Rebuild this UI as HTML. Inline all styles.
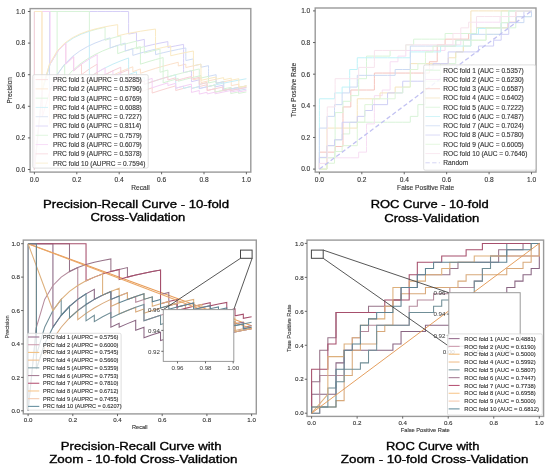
<!DOCTYPE html>
<html><head><meta charset="utf-8"><style>
html,body{margin:0;padding:0;background:#fff;}
svg{display:block;font-family:"Liberation Sans", sans-serif;}
</style></head><body>
<svg width="550" height="470" viewBox="0 0 550 470">
<defs><filter id="soft" x="0" y="0" width="1" height="1"><feGaussianBlur stdDeviation="0.4"/></filter></defs>
<rect width="550" height="470" fill="#fff"/>
<g filter="url(#soft)">
<rect width="550" height="470" fill="#fff"/>
<polyline points="34.40,11.50 34.40,169.50 42.25,90.50 50.10,64.17 57.96,51.00 65.81,43.10 65.81,64.17 73.66,56.64 73.66,70.75 81.51,64.17 81.51,74.70 89.36,68.95 97.21,64.17 97.21,72.27 97.21,79.21 97.21,85.23 97.21,90.50 97.21,95.15 97.21,99.28 97.21,102.97 97.21,106.30 105.07,101.79 105.07,104.86 112.92,100.80 120.77,97.08 120.77,99.98 128.62,96.58 136.47,93.43 144.33,90.50 152.18,87.78 152.18,90.50 152.18,93.05 160.03,90.50 167.88,88.11 175.73,85.85 175.73,88.24 175.73,90.50 183.59,88.36 191.44,86.34 191.44,88.47 199.29,86.55 207.14,84.72 207.14,86.74 207.14,88.66 207.14,90.50 214.99,88.74 214.99,90.50 214.99,92.18 222.84,90.50 230.70,88.89 238.55,87.34 246.40,85.85" fill="none" stroke="#f9d3d3" stroke-width="1.0" stroke-opacity="1.0" stroke-linejoin="miter"/>
<polyline points="34.40,11.50 41.97,11.50 41.97,90.50 49.54,64.17 49.54,90.50 49.54,106.30 49.54,116.83 49.54,124.36 57.11,110.25 57.11,116.83 64.69,106.30 72.26,97.68 79.83,90.50 87.40,84.42 94.97,79.21 94.97,85.23 102.54,80.62 110.11,76.56 117.69,72.94 125.26,69.71 132.83,66.80 132.83,71.69 140.40,68.95 140.40,73.33 147.97,70.75 155.54,68.38 163.11,66.19 170.69,64.17 178.26,62.29 178.26,65.98 185.83,64.17 185.83,67.56 193.40,65.81 193.40,68.95 193.40,71.91 193.40,74.70 193.40,77.33 193.40,79.82 200.97,78.03 200.97,80.37 200.97,82.60 208.54,80.87 216.11,79.21 216.11,81.31 216.11,83.32 223.69,81.72 231.26,80.20 231.26,82.10 231.26,83.92 231.26,85.66 238.83,84.18 238.83,85.85 238.83,87.46 246.40,86.03" fill="none" stroke="#fce1ca" stroke-width="1.0" stroke-opacity="1.0" stroke-linejoin="miter"/>
<polyline points="34.40,11.50 41.97,11.50 49.54,11.50 57.11,11.50 57.11,51.00 57.11,74.70 64.69,64.17 64.69,79.21 72.26,70.75 79.83,64.17 87.40,58.90 94.97,54.59 102.54,51.00 110.11,47.96 117.69,45.36 117.69,53.63 125.26,51.00 132.83,48.68 140.40,46.61 140.40,53.08 140.40,58.90 140.40,64.17 147.97,61.77 155.54,59.59 163.11,57.58 163.11,62.06 163.11,66.19 163.11,70.02 163.11,73.57 163.11,76.88 163.11,79.97 163.11,82.85 170.69,80.62 178.26,78.53 178.26,81.21 185.83,79.21 193.40,77.33 200.97,75.55 200.97,78.03 208.54,76.32 208.54,78.65 208.54,80.87 208.54,82.98 216.11,81.31 216.11,83.32 223.69,81.72 223.69,83.63 223.69,85.46 223.69,87.21 223.69,88.89 231.26,87.34 231.26,88.95 238.83,87.46 246.40,86.03" fill="none" stroke="#d5f3d5" stroke-width="1.0" stroke-opacity="1.0" stroke-linejoin="miter"/>
<polyline points="34.40,11.50 34.40,169.50 42.25,90.50 50.10,64.17 57.96,51.00 65.81,43.10 73.66,37.83 81.51,34.07 89.36,31.25 89.36,46.61 89.36,58.90 89.36,68.95 89.36,77.33 97.21,72.27 105.07,67.93 112.92,64.17 120.77,60.88 128.62,57.97 128.62,64.17 128.62,69.71 128.62,74.70 136.47,71.69 136.47,76.14 136.47,80.20 144.33,77.33 144.33,81.02 144.33,84.42 152.18,81.72 160.03,79.21 167.88,76.88 175.73,74.70 175.73,77.76 175.73,80.62 175.73,83.32 175.73,85.85 175.73,88.24 183.59,86.11 183.59,88.36 191.44,86.34 191.44,88.47 199.29,86.55 199.29,88.57 207.14,86.74 214.99,84.99 222.84,83.32 230.70,81.72 238.55,80.20 246.40,78.73" fill="none" stroke="#c5eef7" stroke-width="1.0" stroke-opacity="1.0" stroke-linejoin="miter"/>
<polyline points="34.40,11.50 41.97,11.50 49.54,11.50 49.54,64.17 49.54,90.50 57.11,74.70 64.69,64.17 72.26,56.64 79.83,51.00 87.40,46.61 94.97,43.10 102.54,40.23 110.11,37.83 110.11,47.96 117.69,45.36 125.26,43.10 125.26,51.00 132.83,48.68 132.83,55.39 140.40,53.08 147.97,51.00 155.54,49.12 155.54,54.59 163.11,52.72 170.69,51.00 178.26,49.42 185.83,47.96 185.83,52.46 185.83,56.64 185.83,60.53 193.40,58.90 193.40,62.47 193.40,65.81 200.97,64.17 200.97,67.26 208.54,65.67 208.54,68.56 208.54,71.28 208.54,73.87 208.54,76.32 216.11,74.70 216.11,77.01 216.11,79.21 216.11,81.31 216.11,83.32 223.69,81.72 223.69,83.63 223.69,85.46 223.69,87.21 223.69,88.89 223.69,90.50 231.26,88.95 238.83,87.46 238.83,89.01 238.83,90.50 246.40,89.06" fill="none" stroke="#cfdcf5" stroke-width="1.0" stroke-opacity="1.0" stroke-linejoin="miter"/>
<polyline points="34.40,11.50 42.25,11.50 50.10,11.50 57.96,11.50 65.81,11.50 73.66,11.50 81.51,11.50 89.36,11.50 97.21,11.50 105.07,11.50 112.92,11.50 120.77,11.50 128.62,11.50 128.62,23.65 128.62,34.07 136.47,32.57 136.47,41.12 144.33,39.38 144.33,46.61 152.18,44.76 160.03,43.10 167.88,41.60 167.88,47.41 175.73,45.85 183.59,44.42 183.59,49.42 183.59,54.04 183.59,58.31 183.59,62.29 183.59,65.98 183.59,69.43 183.59,72.66 191.44,70.75 191.44,73.74 191.44,76.56 191.44,79.21 191.44,81.72 199.29,79.82 199.29,82.18 199.29,84.42 199.29,86.55 199.29,88.57 207.14,86.74 214.99,84.99 214.99,86.91 222.84,85.23 222.84,87.07 222.84,88.82 222.84,90.50 230.70,88.89 230.70,90.50 238.55,88.95 246.40,87.46" fill="none" stroke="#d6cff7" stroke-width="1.0" stroke-opacity="1.0" stroke-linejoin="miter"/>
<polyline points="34.40,11.50 42.25,11.50 50.10,11.50 57.96,11.50 65.81,11.50 73.66,11.50 81.51,11.50 89.36,11.50 89.36,31.25 97.21,29.06 105.07,27.30 105.07,40.23 112.92,37.83 120.77,35.81 120.77,45.36 128.62,43.10 136.47,41.12 136.47,48.68 144.33,46.61 144.33,53.08 152.18,51.00 160.03,49.12 160.03,54.59 160.03,59.59 160.03,64.17 160.03,68.38 160.03,72.27 167.88,70.02 167.88,73.57 167.88,76.88 175.73,74.70 183.59,72.66 191.44,70.75 199.29,68.95 199.29,71.91 199.29,74.70 199.29,77.33 199.29,79.82 199.29,82.18 199.29,84.42 207.14,82.60 207.14,84.72 207.14,86.74 214.99,84.99 214.99,86.91 214.99,88.74 214.99,90.50 214.99,92.18 222.84,90.50 230.70,88.89 230.70,90.50 230.70,92.05 230.70,93.54 238.55,91.99 238.55,93.43 246.40,91.94" fill="none" stroke="#d8f3d8" stroke-width="1.0" stroke-opacity="1.0" stroke-linejoin="miter"/>
<polyline points="34.40,11.50 42.25,11.50 50.10,11.50 50.10,64.17 57.96,51.00 65.81,43.10 65.81,64.17 73.66,56.64 73.66,70.75 81.51,64.17 89.36,58.90 97.21,54.59 97.21,64.17 97.21,72.27 105.07,67.93 105.07,74.70 112.92,70.75 112.92,76.56 120.77,72.94 120.77,78.03 120.77,82.60 128.62,79.21 136.47,76.14 136.47,80.20 136.47,83.92 144.33,81.02 152.18,78.35 152.18,81.72 152.18,84.86 152.18,87.78 160.03,85.23 167.88,82.85 167.88,85.56 175.73,83.32 175.73,85.85 175.73,88.24 183.59,86.11 191.44,84.09 191.44,86.34 191.44,88.47 191.44,90.50 191.44,92.43 199.29,90.50 199.29,92.34 199.29,94.09 207.14,92.26 207.14,93.93 214.99,92.18 214.99,93.79 222.84,92.11 230.70,90.50 230.70,92.05 238.55,90.50 238.55,91.99 246.40,90.50" fill="none" stroke="#f5d1f5" stroke-width="1.0" stroke-opacity="1.0" stroke-linejoin="miter"/>
<polyline points="34.40,11.50 34.40,169.50 42.25,90.50 42.25,116.83 50.10,90.50 57.96,74.70 57.96,90.50 65.81,79.21 65.81,90.50 65.81,99.28 73.66,90.50 81.51,83.32 89.36,77.33 97.21,72.27 97.21,79.21 105.07,74.70 112.92,70.75 120.77,67.26 120.77,72.94 128.62,69.71 128.62,74.70 128.62,79.21 128.62,83.32 136.47,80.20 136.47,83.92 144.33,81.02 144.33,84.42 152.18,81.72 160.03,79.21 167.88,76.88 167.88,79.97 175.73,77.76 175.73,80.62 183.59,78.53 191.44,76.56 191.44,79.21 199.29,77.33 199.29,79.82 199.29,82.18 199.29,84.42 207.14,82.60 207.14,84.72 207.14,86.74 207.14,88.66 207.14,90.50 214.99,88.74 222.84,87.07 222.84,88.82 222.84,90.50 230.70,88.89 230.70,90.50 238.55,88.95 246.40,87.46" fill="none" stroke="#f7d1d8" stroke-width="1.0" stroke-opacity="1.0" stroke-linejoin="miter"/>
<polyline points="34.40,11.50 41.97,11.50 41.97,90.50 49.54,64.17 57.11,51.00 64.69,43.10 72.26,37.83 79.83,34.07 87.40,31.25 94.97,29.06 102.54,27.30 110.11,25.86 117.69,24.67 117.69,35.81 125.26,34.07 132.83,32.57 140.40,31.25 147.97,30.09 155.54,29.06 155.54,36.45 155.54,43.10 155.54,49.12 163.11,47.41 170.69,45.85 170.69,51.00 170.69,55.74 178.26,54.04 185.83,52.46 193.40,51.00 193.40,55.09 193.40,58.90 193.40,62.47 193.40,65.81 200.97,64.17 200.97,67.26 200.97,70.19 200.97,72.94 200.97,75.55 200.97,78.03 200.97,80.37 208.54,78.65 216.11,77.01 216.11,79.21 223.69,77.64 223.69,79.73 231.26,78.21 231.26,80.20 238.83,78.73 238.83,80.62 238.83,82.44 238.83,84.18 238.83,85.85 238.83,87.46 246.40,86.03" fill="none" stroke="#faeac4" stroke-width="1.0" stroke-opacity="1.0" stroke-linejoin="miter"/>
<polyline points="319.40,169.10 326.97,169.10 326.97,163.24 326.97,157.38 326.97,151.52 326.97,145.66 334.55,145.66 334.55,139.80 342.12,139.80 342.12,133.94 349.70,133.94 349.70,128.09 349.70,122.23 357.27,122.23 364.85,122.23 372.42,122.23 380.00,122.23 387.57,122.23 395.15,122.23 402.72,122.23 410.30,122.23 410.30,116.37 417.88,116.37 417.88,110.51 417.88,104.65 425.45,104.65 425.45,98.79 425.45,92.93 425.45,87.07 425.45,81.21 433.02,81.21 440.60,81.21 440.60,75.35 440.60,69.49 440.60,63.63 448.17,63.63 455.75,63.63 455.75,57.77 455.75,51.91 463.32,51.91 463.32,46.06 463.32,40.20 470.90,40.20 478.48,40.20 486.05,40.20 486.05,34.34 493.62,34.34 501.20,34.34 501.20,28.48 501.20,22.62 501.20,16.76 501.20,10.90 508.77,10.90 516.35,10.90 523.92,10.90 531.50,10.90" fill="none" stroke="#d8f3d8" stroke-width="1.0" stroke-opacity="1.0" stroke-linejoin="miter"/>
<polyline points="319.40,169.10 319.40,163.45 327.26,163.45 327.26,157.80 335.11,157.80 342.97,157.80 350.82,157.80 358.68,157.80 358.68,152.15 366.53,152.15 366.53,146.50 366.53,140.85 366.53,135.20 366.53,129.55 366.53,123.90 374.39,123.90 374.39,118.25 374.39,112.60 374.39,106.95 374.39,101.30 374.39,95.65 382.24,95.65 382.24,90.00 390.10,90.00 390.10,84.35 390.10,78.70 390.10,73.05 390.10,67.40 390.10,61.75 397.96,61.75 397.96,56.10 405.81,56.10 405.81,50.45 413.67,50.45 421.52,50.45 429.38,50.45 437.23,50.45 445.09,50.45 445.09,44.80 452.94,44.80 460.80,44.80 460.80,39.15 460.80,33.50 468.66,33.50 476.51,33.50 476.51,27.85 476.51,22.20 484.37,22.20 492.22,22.20 500.08,22.20 500.08,16.55 507.93,16.55 515.79,16.55 515.79,10.90 523.64,10.90 531.50,10.90" fill="none" stroke="#f7def3" stroke-width="1.0" stroke-opacity="1.0" stroke-linejoin="miter"/>
<polyline points="319.40,169.10 319.40,163.45 319.40,157.80 319.40,152.15 327.26,152.15 335.11,152.15 335.11,146.50 342.97,146.50 342.97,140.85 342.97,135.20 342.97,129.55 342.97,123.90 342.97,118.25 342.97,112.60 342.97,106.95 350.82,106.95 350.82,101.30 350.82,95.65 350.82,90.00 358.68,90.00 366.53,90.00 374.39,90.00 374.39,84.35 374.39,78.70 374.39,73.05 382.24,73.05 390.10,73.05 397.96,73.05 405.81,73.05 413.67,73.05 421.52,73.05 429.38,73.05 429.38,67.40 429.38,61.75 437.23,61.75 437.23,56.10 437.23,50.45 437.23,44.80 445.09,44.80 445.09,39.15 452.94,39.15 460.80,39.15 468.66,39.15 468.66,33.50 476.51,33.50 476.51,27.85 484.37,27.85 492.22,27.85 500.08,27.85 507.93,27.85 507.93,22.20 515.79,22.20 515.79,16.55 515.79,10.90 523.64,10.90 531.50,10.90" fill="none" stroke="#f5c4be" stroke-width="1.0" stroke-opacity="1.0" stroke-linejoin="miter"/>
<polyline points="319.40,169.10 326.97,169.10 326.97,163.24 326.97,157.38 326.97,151.52 326.97,145.66 326.97,139.80 326.97,133.94 326.97,128.09 334.55,128.09 342.12,128.09 349.70,128.09 357.27,128.09 357.27,122.23 357.27,116.37 357.27,110.51 357.27,104.65 357.27,98.79 364.85,98.79 372.42,98.79 380.00,98.79 380.00,92.93 387.57,92.93 395.15,92.93 395.15,87.07 402.72,87.07 410.30,87.07 410.30,81.21 410.30,75.35 410.30,69.49 410.30,63.63 417.88,63.63 425.45,63.63 433.02,63.63 440.60,63.63 448.17,63.63 448.17,57.77 455.75,57.77 455.75,51.91 463.32,51.91 463.32,46.06 470.90,46.06 470.90,40.20 470.90,34.34 470.90,28.48 470.90,22.62 470.90,16.76 470.90,10.90 478.48,10.90 486.05,10.90 493.62,10.90 501.20,10.90 508.77,10.90 516.35,10.90 523.92,10.90 531.50,10.90" fill="none" stroke="#f5e4bd" stroke-width="1.0" stroke-opacity="1.0" stroke-linejoin="miter"/>
<polyline points="319.40,169.10 319.40,163.45 319.40,157.80 327.26,157.80 335.11,157.80 335.11,152.15 335.11,146.50 335.11,140.85 335.11,135.20 335.11,129.55 335.11,123.90 335.11,118.25 335.11,112.60 342.97,112.60 342.97,106.95 342.97,101.30 350.82,101.30 350.82,95.65 358.68,95.65 358.68,90.00 358.68,84.35 358.68,78.70 366.53,78.70 366.53,73.05 366.53,67.40 366.53,61.75 366.53,56.10 374.39,56.10 382.24,56.10 390.10,56.10 390.10,50.45 397.96,50.45 405.81,50.45 405.81,44.80 413.67,44.80 413.67,39.15 421.52,39.15 429.38,39.15 437.23,39.15 445.09,39.15 445.09,33.50 452.94,33.50 460.80,33.50 468.66,33.50 476.51,33.50 476.51,27.85 484.37,27.85 492.22,27.85 500.08,27.85 507.93,27.85 515.79,27.85 515.79,22.20 515.79,16.55 523.64,16.55 531.50,16.55 531.50,10.90" fill="none" stroke="#d8f5d8" stroke-width="1.0" stroke-opacity="1.0" stroke-linejoin="miter"/>
<polyline points="319.40,169.10 319.40,163.24 319.40,157.38 319.40,151.52 319.40,145.66 319.40,139.80 319.40,133.94 319.40,128.09 319.40,122.23 319.40,116.37 319.40,110.51 319.40,104.65 319.40,98.79 326.97,98.79 334.55,98.79 334.55,92.93 342.12,92.93 342.12,87.07 349.70,87.07 349.70,81.21 349.70,75.35 349.70,69.49 357.27,69.49 357.27,63.63 357.27,57.77 364.85,57.77 372.42,57.77 380.00,57.77 387.57,57.77 395.15,57.77 402.72,57.77 410.30,57.77 410.30,51.91 417.88,51.91 425.45,51.91 433.02,51.91 440.60,51.91 440.60,46.06 448.17,46.06 455.75,46.06 463.32,46.06 470.90,46.06 470.90,40.20 470.90,34.34 478.48,34.34 478.48,28.48 486.05,28.48 493.62,28.48 501.20,28.48 501.20,22.62 508.77,22.62 508.77,16.76 508.77,10.90 516.35,10.90 523.92,10.90 531.50,10.90" fill="none" stroke="#c0f3f8" stroke-width="1.0" stroke-opacity="1.0" stroke-linejoin="miter"/>
<polyline points="319.40,169.10 319.40,163.24 319.40,157.38 319.40,151.52 319.40,145.66 319.40,139.80 319.40,133.94 319.40,128.09 326.97,128.09 326.97,122.23 326.97,116.37 334.55,116.37 334.55,110.51 334.55,104.65 342.12,104.65 342.12,98.79 342.12,92.93 349.70,92.93 349.70,87.07 357.27,87.07 357.27,81.21 357.27,75.35 364.85,75.35 372.42,75.35 380.00,75.35 387.57,75.35 395.15,75.35 395.15,69.49 402.72,69.49 410.30,69.49 410.30,63.63 410.30,57.77 410.30,51.91 410.30,46.06 417.88,46.06 425.45,46.06 433.02,46.06 440.60,46.06 448.17,46.06 455.75,46.06 455.75,40.20 463.32,40.20 470.90,40.20 470.90,34.34 478.48,34.34 486.05,34.34 493.62,34.34 501.20,34.34 501.20,28.48 501.20,22.62 508.77,22.62 516.35,22.62 523.92,22.62 523.92,16.76 531.50,16.76 531.50,10.90" fill="none" stroke="#cbdaf3" stroke-width="1.0" stroke-opacity="1.0" stroke-linejoin="miter"/>
<polyline points="319.40,169.10 319.40,163.24 319.40,157.38 326.97,157.38 326.97,151.52 326.97,145.66 334.55,145.66 334.55,139.80 342.12,139.80 342.12,133.94 342.12,128.09 342.12,122.23 349.70,122.23 357.27,122.23 357.27,116.37 364.85,116.37 364.85,110.51 372.42,110.51 372.42,104.65 380.00,104.65 387.57,104.65 387.57,98.79 387.57,92.93 395.15,92.93 402.72,92.93 402.72,87.07 402.72,81.21 410.30,81.21 417.88,81.21 425.45,81.21 425.45,75.35 425.45,69.49 433.02,69.49 433.02,63.63 440.60,63.63 448.17,63.63 448.17,57.77 448.17,51.91 455.75,51.91 463.32,51.91 470.90,51.91 478.48,51.91 478.48,46.06 486.05,46.06 493.62,46.06 493.62,40.20 501.20,40.20 501.20,34.34 508.77,34.34 508.77,28.48 508.77,22.62 516.35,22.62 516.35,16.76 523.92,16.76 523.92,10.90 531.50,10.90" fill="none" stroke="#cfcff5" stroke-width="1.0" stroke-opacity="1.0" stroke-linejoin="miter"/>
<polyline points="319.40,169.10 326.97,169.10 326.97,163.24 334.55,163.24 334.55,157.38 334.55,151.52 342.12,151.52 342.12,145.66 349.70,145.66 357.27,145.66 357.27,139.80 357.27,133.94 357.27,128.09 357.27,122.23 364.85,122.23 364.85,116.37 364.85,110.51 364.85,104.65 372.42,104.65 372.42,98.79 380.00,98.79 387.57,98.79 395.15,98.79 395.15,92.93 402.72,92.93 402.72,87.07 410.30,87.07 410.30,81.21 410.30,75.35 410.30,69.49 417.88,69.49 417.88,63.63 425.45,63.63 425.45,57.77 425.45,51.91 433.02,51.91 433.02,46.06 440.60,46.06 448.17,46.06 455.75,46.06 455.75,40.20 463.32,40.20 470.90,40.20 478.48,40.20 486.05,40.20 486.05,34.34 486.05,28.48 493.62,28.48 501.20,28.48 501.20,22.62 508.77,22.62 508.77,16.76 508.77,10.90 516.35,10.90 523.92,10.90 531.50,10.90" fill="none" stroke="#def5d8" stroke-width="1.0" stroke-opacity="1.0" stroke-linejoin="miter"/>
<polyline points="319.40,169.10 319.40,163.45 327.26,163.45 327.26,157.80 327.26,152.15 327.26,146.50 327.26,140.85 327.26,135.20 327.26,129.55 327.26,123.90 327.26,118.25 327.26,112.60 327.26,106.95 335.11,106.95 335.11,101.30 335.11,95.65 335.11,90.00 335.11,84.35 335.11,78.70 342.97,78.70 350.82,78.70 358.68,78.70 358.68,73.05 358.68,67.40 366.53,67.40 374.39,67.40 374.39,61.75 374.39,56.10 374.39,50.45 382.24,50.45 390.10,50.45 397.96,50.45 405.81,50.45 405.81,44.80 413.67,44.80 421.52,44.80 429.38,44.80 437.23,44.80 445.09,44.80 452.94,44.80 452.94,39.15 452.94,33.50 460.80,33.50 460.80,27.85 468.66,27.85 468.66,22.20 476.51,22.20 476.51,16.55 484.37,16.55 492.22,16.55 500.08,16.55 507.93,16.55 515.79,16.55 515.79,10.90 523.64,10.90 531.50,10.90" fill="none" stroke="#f7e4ed" stroke-width="1.0" stroke-opacity="1.0" stroke-linejoin="miter"/>
<polyline points="319.40,169.10 531.50,10.90" fill="none" stroke="#c2c2f2" stroke-width="1.3" stroke-opacity="1.0" stroke-linejoin="miter" stroke-dasharray="4.4,2.6"/>
<polyline points="28.10,243.70 36.38,243.70 44.66,243.70 52.93,243.70 52.93,285.48 52.93,310.54 52.93,327.25 61.21,315.31 69.49,306.36 77.77,299.40 86.04,293.83 94.32,289.27 94.32,299.40 102.60,295.12 110.88,291.44 110.88,299.40 110.88,306.36 110.88,312.51 110.88,317.97 110.88,322.85 110.88,327.25 119.16,323.27 119.16,327.25 127.43,323.62 135.71,320.29 135.71,323.91 135.71,327.25 135.71,330.34 143.99,327.25 143.99,330.13 143.99,332.82 143.99,335.34 143.99,337.69 152.27,334.85 160.54,332.16 160.54,334.41 160.54,336.53 160.54,338.54 160.54,340.44 168.82,337.96 177.10,335.61 177.10,337.44 177.10,339.19 185.38,336.97 193.66,334.85 193.66,336.53 201.93,334.52 201.93,336.14 210.21,334.21 210.21,335.78 218.49,333.93 218.49,335.44 226.77,333.68 235.04,331.98 243.32,330.34 251.60,328.77" fill="none" stroke="#896582" stroke-width="1.05" stroke-opacity="1.0" stroke-linejoin="miter"/>
<polyline points="28.10,243.70 28.10,410.80 36.38,327.25 44.66,299.40 52.93,285.48 61.21,277.12 69.49,271.55 77.77,267.57 77.77,285.48 77.77,299.40 77.77,310.54 86.04,304.46 94.32,299.40 102.60,295.12 110.88,291.44 110.88,299.40 119.16,295.92 127.43,292.85 127.43,299.40 135.71,296.47 135.71,302.19 143.99,299.40 143.99,304.46 143.99,309.09 143.99,313.32 143.99,317.22 143.99,320.82 152.27,317.97 160.54,315.31 168.82,312.84 168.82,316.11 177.10,313.77 177.10,316.81 177.10,319.65 185.38,317.42 185.38,320.09 185.38,322.61 193.66,320.48 193.66,322.85 193.66,325.11 193.66,327.25 201.93,325.21 201.93,327.25 210.21,325.31 218.49,323.45 218.49,325.39 226.77,323.62 235.04,321.92 235.04,323.77 235.04,325.54 235.04,327.25 235.04,328.89 235.04,330.46 235.04,331.98 243.32,330.34 251.60,328.77" fill="none" stroke="#b58b9d" stroke-width="1.05" stroke-opacity="1.0" stroke-linejoin="miter"/>
<polyline points="28.10,243.70 251.60,325.73" fill="none" stroke="#e89c58" stroke-width="1.05" stroke-opacity="1.0" stroke-linejoin="miter"/>
<polyline points="28.10,243.70 36.38,243.70 36.38,327.25 36.38,355.10 36.38,369.02 44.66,343.96 44.66,355.10 52.93,339.19 61.21,327.25 69.49,317.97 77.77,310.54 77.77,319.65 86.04,313.32 94.32,307.97 102.60,303.38 110.88,299.40 110.88,306.36 119.16,302.68 119.16,308.68 119.16,314.06 127.43,310.54 135.71,307.36 135.71,312.06 143.99,309.09 143.99,313.32 152.27,310.54 160.54,307.97 168.82,305.59 177.10,303.38 177.10,307.08 185.38,304.97 185.38,308.38 185.38,311.58 185.38,314.59 193.66,312.51 193.66,315.31 193.66,317.97 193.66,320.48 193.66,322.85 201.93,320.82 201.93,323.07 210.21,321.14 210.21,323.27 210.21,325.31 210.21,327.25 210.21,329.11 210.21,330.88 218.49,329.03 218.49,330.73 218.49,332.37 226.77,330.59 226.77,332.16 235.04,330.46 243.32,328.83 251.60,327.25" fill="none" stroke="#d8a97a" stroke-width="1.05" stroke-opacity="1.0" stroke-linejoin="miter"/>
<polyline points="28.10,243.70 28.10,410.80 36.38,327.25 36.38,355.10 44.66,327.25 52.93,310.54 61.21,299.40 61.21,315.31 69.49,306.36 69.49,317.97 77.77,310.54 86.04,304.46 86.04,313.32 86.04,320.82 94.32,315.31 94.32,321.68 102.60,316.81 110.88,312.51 110.88,317.97 119.16,314.06 127.43,310.54 135.71,307.36 143.99,304.46 143.99,309.09 143.99,313.32 143.99,317.22 143.99,320.82 152.27,317.97 160.54,315.31 160.54,318.61 160.54,321.68 160.54,324.55 168.82,322.03 168.82,324.72 177.10,322.34 177.10,324.86 177.10,327.25 185.38,324.99 185.38,327.25 185.38,329.39 193.66,327.25 201.93,325.21 201.93,327.25 210.21,325.31 218.49,323.45 218.49,325.39 226.77,323.62 235.04,321.92 235.04,323.77 235.04,325.54 243.32,323.91 251.60,322.34" fill="none" stroke="#708e97" stroke-width="1.05" stroke-opacity="1.0" stroke-linejoin="miter"/>
<polyline points="28.10,243.70 36.38,243.70 44.66,243.70 52.93,243.70 61.21,243.70 69.49,243.70 69.49,271.55 77.77,267.57 86.04,264.59 94.32,262.27 102.60,260.41 110.88,258.89 110.88,271.55 119.16,269.41 127.43,267.57 127.43,277.12 135.71,275.03 143.99,273.19 152.27,271.55 160.54,270.08 160.54,277.12 160.54,283.49 160.54,289.27 160.54,294.56 168.82,292.44 168.82,297.17 168.82,301.54 168.82,305.59 177.10,303.38 177.10,307.08 185.38,304.97 193.66,302.99 193.66,306.36 193.66,309.53 201.93,307.59 210.21,305.77 210.21,308.68 210.21,311.44 210.21,314.06 210.21,316.54 218.49,314.72 218.49,317.06 226.77,315.31 226.77,317.53 226.77,319.65 226.77,321.68 226.77,323.62 226.77,325.47 235.04,323.77 243.32,322.13 243.32,323.91 243.32,325.61 243.32,327.25 251.60,325.67" fill="none" stroke="#977389" stroke-width="1.05" stroke-opacity="1.0" stroke-linejoin="miter"/>
<polyline points="28.10,243.70 36.38,243.70 44.66,243.70 52.93,243.70 61.21,243.70 69.49,243.70 77.77,243.70 86.04,243.70 86.04,264.59 86.04,280.83 94.32,277.12 102.60,274.08 110.88,271.55 119.16,269.41 119.16,279.51 127.43,277.12 135.71,275.03 143.99,273.19 152.27,271.55 160.54,270.08 160.54,277.12 160.54,283.49 160.54,289.27 160.54,294.56 160.54,299.40 160.54,303.86 168.82,301.54 177.10,299.40 177.10,303.38 177.10,307.08 177.10,310.54 185.38,308.38 193.66,306.36 201.93,304.46 210.21,302.68 210.21,305.77 218.49,304.04 226.77,302.41 226.77,305.26 226.77,307.97 226.77,310.54 235.04,308.91 235.04,311.34 235.04,313.65 235.04,315.86 243.32,314.25 243.32,316.35 243.32,318.36 251.60,316.81" fill="none" stroke="#a64f6c" stroke-width="1.05" stroke-opacity="1.0" stroke-linejoin="miter"/>
<polyline points="28.10,243.70 52.93,310.54 61.21,299.40 69.49,291.44 77.77,285.48 86.04,280.83 94.32,277.12 102.60,274.08 102.60,285.48 102.60,295.12 110.88,291.44 119.16,288.26 119.16,295.92 127.43,292.85 127.43,299.40 135.71,296.47 143.99,293.83 143.99,299.40 152.27,296.87 152.27,301.82 152.27,306.36 160.54,303.86 168.82,301.54 168.82,305.59 177.10,303.38 185.38,301.32 193.66,299.40 193.66,302.99 193.66,306.36 201.93,304.46 201.93,307.59 201.93,310.54 210.21,308.68 210.21,311.44 210.21,314.06 218.49,312.25 218.49,314.72 226.77,312.99 226.77,315.31 226.77,317.53 226.77,319.65 235.04,317.97 235.04,319.98 235.04,321.92 235.04,323.77 235.04,325.54 235.04,327.25 235.04,328.89 235.04,330.46 235.04,331.98 243.32,330.34 251.60,328.77" fill="none" stroke="#ddb07c" stroke-width="1.05" stroke-opacity="1.0" stroke-linejoin="miter"/>
<polyline points="28.10,243.70 251.60,328.77" fill="none" stroke="#eaa666" stroke-width="1.05" stroke-opacity="1.0" stroke-linejoin="miter"/>
<polyline points="28.10,243.70 36.38,243.70 36.38,327.25 36.38,355.10 36.38,369.02 44.66,343.96 52.93,327.25 61.21,315.31 69.49,306.36 77.77,299.40 86.04,293.83 86.04,304.46 94.32,299.40 102.60,295.12 110.88,291.44 110.88,299.40 119.16,295.92 119.16,302.68 127.43,299.40 135.71,296.47 143.99,293.83 143.99,299.40 152.27,296.87 152.27,301.82 160.54,299.40 160.54,303.86 160.54,307.97 168.82,305.59 168.82,309.35 177.10,307.08 185.38,304.97 193.66,302.99 193.66,306.36 193.66,309.53 201.93,307.59 210.21,305.77 210.21,308.68 218.49,306.93 218.49,309.66 226.77,307.97 226.77,310.54 226.77,312.99 226.77,315.31 226.77,317.53 226.77,319.65 226.77,321.68 226.77,323.62 226.77,325.47 226.77,327.25 235.04,325.54 243.32,323.91 243.32,325.61 243.32,327.25 243.32,328.83 251.60,327.25" fill="none" stroke="#5f8392" stroke-width="1.05" stroke-opacity="1.0" stroke-linejoin="miter"/>
<polyline points="311.60,413.20 311.60,406.91 311.60,400.62 311.60,394.33 319.73,394.33 327.86,394.33 336.00,394.33 336.00,388.04 336.00,381.76 336.00,375.47 336.00,369.18 336.00,362.89 344.13,362.89 344.13,356.60 344.13,350.31 352.26,350.31 360.39,350.31 368.52,350.31 376.66,350.31 384.79,350.31 392.92,350.31 392.92,344.02 401.05,344.02 401.05,337.73 401.05,331.44 409.19,331.44 417.32,331.44 425.45,331.44 425.45,325.16 433.58,325.16 441.71,325.16 449.85,325.16 457.98,325.16 457.98,318.87 457.98,312.58 466.11,312.58 474.24,312.58 482.38,312.58 490.51,312.58 490.51,306.29 490.51,300.00 498.64,300.00 506.77,300.00 506.77,293.71 506.77,287.42 514.90,287.42 514.90,281.13 523.04,281.13 523.04,274.84 531.17,274.84 531.17,268.56 539.30,268.56 539.30,262.27 539.30,255.98 539.30,249.69 539.30,243.40" fill="none" stroke="#896582" stroke-width="1.05" stroke-opacity="1.0" stroke-linejoin="miter"/>
<polyline points="311.60,413.20 319.73,413.20 319.73,406.91 319.73,400.62 319.73,394.33 319.73,388.04 319.73,381.76 319.73,375.47 327.86,375.47 336.00,375.47 344.13,375.47 344.13,369.18 344.13,362.89 344.13,356.60 344.13,350.31 352.26,350.31 352.26,344.02 352.26,337.73 360.39,337.73 360.39,331.44 368.52,331.44 368.52,325.16 376.66,325.16 384.79,325.16 392.92,325.16 401.05,325.16 409.19,325.16 409.19,318.87 409.19,312.58 409.19,306.29 417.32,306.29 417.32,300.00 425.45,300.00 433.58,300.00 433.58,293.71 441.71,293.71 449.85,293.71 449.85,287.42 457.98,287.42 466.11,287.42 474.24,287.42 474.24,281.13 482.38,281.13 482.38,274.84 482.38,268.56 490.51,268.56 490.51,262.27 490.51,255.98 498.64,255.98 506.77,255.98 514.90,255.98 523.04,255.98 531.17,255.98 539.30,255.98 539.30,249.69 539.30,243.40" fill="none" stroke="#b58b9d" stroke-width="1.05" stroke-opacity="1.0" stroke-linejoin="miter"/>
<polyline points="311.60,413.20 311.60,406.91 319.73,406.91 327.86,406.91 336.00,406.91 336.00,400.62 344.13,400.62 344.13,394.33 344.13,388.04 344.13,381.76 344.13,375.47 352.26,375.47 352.26,369.18 352.26,362.89 352.26,356.60 352.26,350.31 360.39,350.31 360.39,344.02 368.52,344.02 376.66,344.02 376.66,337.73 376.66,331.44 384.79,331.44 384.79,325.16 392.92,325.16 392.92,318.87 392.92,312.58 392.92,306.29 392.92,300.00 401.05,300.00 401.05,293.71 409.19,293.71 417.32,293.71 425.45,293.71 425.45,287.42 433.58,287.42 441.71,287.42 449.85,287.42 457.98,287.42 457.98,281.13 466.11,281.13 466.11,274.84 474.24,274.84 482.38,274.84 490.51,274.84 498.64,274.84 506.77,274.84 506.77,268.56 514.90,268.56 523.04,268.56 523.04,262.27 531.17,262.27 531.17,255.98 531.17,249.69 531.17,243.40 539.30,243.40" fill="none" stroke="#d8a97a" stroke-width="1.05" stroke-opacity="1.0" stroke-linejoin="miter"/>
<polyline points="311.60,413.20 319.73,413.20 319.73,406.91 327.86,406.91 327.86,400.62 327.86,394.33 327.86,388.04 336.00,388.04 336.00,381.76 344.13,381.76 344.13,375.47 344.13,369.18 352.26,369.18 360.39,369.18 360.39,362.89 368.52,362.89 368.52,356.60 368.52,350.31 376.66,350.31 376.66,344.02 376.66,337.73 376.66,331.44 376.66,325.16 384.79,325.16 392.92,325.16 401.05,325.16 409.19,325.16 409.19,318.87 409.19,312.58 417.32,312.58 425.45,312.58 433.58,312.58 433.58,306.29 441.71,306.29 441.71,300.00 449.85,300.00 457.98,300.00 457.98,293.71 466.11,293.71 474.24,293.71 474.24,287.42 474.24,281.13 482.38,281.13 482.38,274.84 482.38,268.56 490.51,268.56 490.51,262.27 490.51,255.98 498.64,255.98 506.77,255.98 506.77,249.69 506.77,243.40 514.90,243.40 523.04,243.40 531.17,243.40 539.30,243.40" fill="none" stroke="#708e97" stroke-width="1.05" stroke-opacity="1.0" stroke-linejoin="miter"/>
<polyline points="311.60,413.20 311.60,406.91 311.60,400.62 311.60,394.33 311.60,388.04 311.60,381.76 319.73,381.76 319.73,375.47 319.73,369.18 319.73,362.89 319.73,356.60 319.73,350.31 327.86,350.31 327.86,344.02 327.86,337.73 336.00,337.73 336.00,331.44 336.00,325.16 336.00,318.87 336.00,312.58 344.13,312.58 352.26,312.58 360.39,312.58 368.52,312.58 368.52,306.29 376.66,306.29 384.79,306.29 392.92,306.29 392.92,300.00 401.05,300.00 401.05,293.71 401.05,287.42 409.19,287.42 417.32,287.42 417.32,281.13 417.32,274.84 425.45,274.84 433.58,274.84 441.71,274.84 449.85,274.84 449.85,268.56 457.98,268.56 457.98,262.27 466.11,262.27 474.24,262.27 482.38,262.27 490.51,262.27 498.64,262.27 498.64,255.98 498.64,249.69 506.77,249.69 514.90,249.69 523.04,249.69 523.04,243.40 531.17,243.40 539.30,243.40" fill="none" stroke="#977389" stroke-width="1.05" stroke-opacity="1.0" stroke-linejoin="miter"/>
<polyline points="311.60,413.20 311.60,406.91 311.60,400.62 311.60,394.33 311.60,388.04 311.60,381.76 311.60,375.47 311.60,369.18 319.73,369.18 327.86,369.18 327.86,362.89 327.86,356.60 327.86,350.31 327.86,344.02 336.00,344.02 336.00,337.73 336.00,331.44 336.00,325.16 336.00,318.87 336.00,312.58 344.13,312.58 352.26,312.58 360.39,312.58 368.52,312.58 376.66,312.58 384.79,312.58 384.79,306.29 384.79,300.00 392.92,300.00 401.05,300.00 409.19,300.00 409.19,293.71 409.19,287.42 409.19,281.13 409.19,274.84 417.32,274.84 417.32,268.56 417.32,262.27 425.45,262.27 433.58,262.27 441.71,262.27 441.71,255.98 449.85,255.98 457.98,255.98 466.11,255.98 466.11,249.69 474.24,249.69 482.38,249.69 482.38,243.40 490.51,243.40 498.64,243.40 506.77,243.40 514.90,243.40 523.04,243.40 531.17,243.40 539.30,243.40" fill="none" stroke="#a64f6c" stroke-width="1.05" stroke-opacity="1.0" stroke-linejoin="miter"/>
<polyline points="311.60,413.20 327.86,394.33 327.86,388.04 327.86,381.76 327.86,375.47 327.86,369.18 327.86,362.89 327.86,356.60 336.00,356.60 344.13,356.60 344.13,350.31 344.13,344.02 352.26,344.02 352.26,337.73 360.39,337.73 360.39,331.44 360.39,325.16 368.52,325.16 368.52,318.87 376.66,318.87 384.79,318.87 384.79,312.58 384.79,306.29 392.92,306.29 392.92,300.00 392.92,293.71 392.92,287.42 401.05,287.42 409.19,287.42 409.19,281.13 417.32,281.13 425.45,281.13 425.45,274.84 433.58,274.84 441.71,274.84 441.71,268.56 449.85,268.56 449.85,262.27 457.98,262.27 466.11,262.27 474.24,262.27 474.24,255.98 482.38,255.98 490.51,255.98 498.64,255.98 506.77,255.98 514.90,255.98 523.04,255.98 531.17,255.98 539.30,255.98 539.30,249.69 539.30,243.40" fill="none" stroke="#ddb07c" stroke-width="1.05" stroke-opacity="1.0" stroke-linejoin="miter"/>
<polyline points="311.60,413.20 311.60,406.91 319.73,406.91 327.86,406.91 336.00,406.91 336.00,400.62 336.00,394.33 336.00,388.04 336.00,381.76 336.00,375.47 336.00,369.18 344.13,369.18 344.13,362.89 344.13,356.60 344.13,350.31 352.26,350.31 352.26,344.02 360.39,344.02 360.39,337.73 360.39,331.44 360.39,325.16 368.52,325.16 368.52,318.87 376.66,318.87 376.66,312.58 384.79,312.58 392.92,312.58 392.92,306.29 401.05,306.29 401.05,300.00 401.05,293.71 401.05,287.42 409.19,287.42 417.32,287.42 417.32,281.13 417.32,274.84 425.45,274.84 425.45,268.56 433.58,268.56 433.58,262.27 441.71,262.27 449.85,262.27 457.98,262.27 466.11,262.27 474.24,262.27 482.38,262.27 490.51,262.27 498.64,262.27 506.77,262.27 506.77,255.98 506.77,249.69 514.90,249.69 523.04,249.69 531.17,249.69 531.17,243.40 539.30,243.40" fill="none" stroke="#5f8392" stroke-width="1.05" stroke-opacity="1.0" stroke-linejoin="miter"/>
<polyline points="311.60,413.20 539.30,243.40" fill="none" stroke="#e49a56" stroke-width="0.95" stroke-opacity="1.0" stroke-linejoin="miter"/>
<rect x="30.10" y="8.60" width="220.70" height="163.50" stroke="#9a9a9a" stroke-width="1.4" fill="none"/>
<line x1="34.40" y1="172.10" x2="34.40" y2="174.30" stroke="#555" stroke-width="0.9"/>
<line x1="27.90" y1="169.50" x2="30.10" y2="169.50" stroke="#555" stroke-width="0.9"/>
<text x="34.40" y="181.50" font-size="6.6" text-anchor="middle" fill="#333" stroke="#333" stroke-width="0.12">0.0</text>
<text x="25.20" y="171.88" font-size="6.6" text-anchor="end" fill="#333" stroke="#333" stroke-width="0.12">0.0</text>
<line x1="76.80" y1="172.10" x2="76.80" y2="174.30" stroke="#555" stroke-width="0.9"/>
<line x1="27.90" y1="137.90" x2="30.10" y2="137.90" stroke="#555" stroke-width="0.9"/>
<text x="76.80" y="181.50" font-size="6.6" text-anchor="middle" fill="#333" stroke="#333" stroke-width="0.12">0.2</text>
<text x="25.20" y="140.28" font-size="6.6" text-anchor="end" fill="#333" stroke="#333" stroke-width="0.12">0.2</text>
<line x1="119.20" y1="172.10" x2="119.20" y2="174.30" stroke="#555" stroke-width="0.9"/>
<line x1="27.90" y1="106.30" x2="30.10" y2="106.30" stroke="#555" stroke-width="0.9"/>
<text x="119.20" y="181.50" font-size="6.6" text-anchor="middle" fill="#333" stroke="#333" stroke-width="0.12">0.4</text>
<text x="25.20" y="108.68" font-size="6.6" text-anchor="end" fill="#333" stroke="#333" stroke-width="0.12">0.4</text>
<line x1="161.60" y1="172.10" x2="161.60" y2="174.30" stroke="#555" stroke-width="0.9"/>
<line x1="27.90" y1="74.70" x2="30.10" y2="74.70" stroke="#555" stroke-width="0.9"/>
<text x="161.60" y="181.50" font-size="6.6" text-anchor="middle" fill="#333" stroke="#333" stroke-width="0.12">0.6</text>
<text x="25.20" y="77.08" font-size="6.6" text-anchor="end" fill="#333" stroke="#333" stroke-width="0.12">0.6</text>
<line x1="204.00" y1="172.10" x2="204.00" y2="174.30" stroke="#555" stroke-width="0.9"/>
<line x1="27.90" y1="43.10" x2="30.10" y2="43.10" stroke="#555" stroke-width="0.9"/>
<text x="204.00" y="181.50" font-size="6.6" text-anchor="middle" fill="#333" stroke="#333" stroke-width="0.12">0.8</text>
<text x="25.20" y="45.48" font-size="6.6" text-anchor="end" fill="#333" stroke="#333" stroke-width="0.12">0.8</text>
<line x1="246.40" y1="172.10" x2="246.40" y2="174.30" stroke="#555" stroke-width="0.9"/>
<line x1="27.90" y1="11.50" x2="30.10" y2="11.50" stroke="#555" stroke-width="0.9"/>
<text x="246.40" y="181.50" font-size="6.6" text-anchor="middle" fill="#333" stroke="#333" stroke-width="0.12">1.0</text>
<text x="25.20" y="13.88" font-size="6.6" text-anchor="end" fill="#333" stroke="#333" stroke-width="0.12">1.0</text>
<text x="140.45" y="190.00" font-size="6.6" text-anchor="middle" fill="#333" stroke="#333" stroke-width="0.12">Recall</text>
<text x="0" y="0" font-size="6.6" text-anchor="middle" fill="#333" textLength="26.2" lengthAdjust="spacingAndGlyphs" transform="translate(11.60,90.35) rotate(-90)" stroke="#333" stroke-width="0.12">Precision</text>
<rect x="315.20" y="8.00" width="220.80" height="164.10" stroke="#9a9a9a" stroke-width="1.4" fill="none"/>
<line x1="319.40" y1="172.10" x2="319.40" y2="174.30" stroke="#555" stroke-width="0.9"/>
<line x1="313.00" y1="169.10" x2="315.20" y2="169.10" stroke="#555" stroke-width="0.9"/>
<text x="319.40" y="181.50" font-size="6.6" text-anchor="middle" fill="#333" stroke="#333" stroke-width="0.12">0.0</text>
<text x="310.30" y="171.48" font-size="6.6" text-anchor="end" fill="#333" stroke="#333" stroke-width="0.12">0.0</text>
<line x1="361.82" y1="172.10" x2="361.82" y2="174.30" stroke="#555" stroke-width="0.9"/>
<line x1="313.00" y1="137.46" x2="315.20" y2="137.46" stroke="#555" stroke-width="0.9"/>
<text x="361.82" y="181.50" font-size="6.6" text-anchor="middle" fill="#333" stroke="#333" stroke-width="0.12">0.2</text>
<text x="310.30" y="139.84" font-size="6.6" text-anchor="end" fill="#333" stroke="#333" stroke-width="0.12">0.2</text>
<line x1="404.24" y1="172.10" x2="404.24" y2="174.30" stroke="#555" stroke-width="0.9"/>
<line x1="313.00" y1="105.82" x2="315.20" y2="105.82" stroke="#555" stroke-width="0.9"/>
<text x="404.24" y="181.50" font-size="6.6" text-anchor="middle" fill="#333" stroke="#333" stroke-width="0.12">0.4</text>
<text x="310.30" y="108.20" font-size="6.6" text-anchor="end" fill="#333" stroke="#333" stroke-width="0.12">0.4</text>
<line x1="446.66" y1="172.10" x2="446.66" y2="174.30" stroke="#555" stroke-width="0.9"/>
<line x1="313.00" y1="74.18" x2="315.20" y2="74.18" stroke="#555" stroke-width="0.9"/>
<text x="446.66" y="181.50" font-size="6.6" text-anchor="middle" fill="#333" stroke="#333" stroke-width="0.12">0.6</text>
<text x="310.30" y="76.56" font-size="6.6" text-anchor="end" fill="#333" stroke="#333" stroke-width="0.12">0.6</text>
<line x1="489.08" y1="172.10" x2="489.08" y2="174.30" stroke="#555" stroke-width="0.9"/>
<line x1="313.00" y1="42.54" x2="315.20" y2="42.54" stroke="#555" stroke-width="0.9"/>
<text x="489.08" y="181.50" font-size="6.6" text-anchor="middle" fill="#333" stroke="#333" stroke-width="0.12">0.8</text>
<text x="310.30" y="44.92" font-size="6.6" text-anchor="end" fill="#333" stroke="#333" stroke-width="0.12">0.8</text>
<line x1="531.50" y1="172.10" x2="531.50" y2="174.30" stroke="#555" stroke-width="0.9"/>
<line x1="313.00" y1="10.90" x2="315.20" y2="10.90" stroke="#555" stroke-width="0.9"/>
<text x="531.50" y="181.50" font-size="6.6" text-anchor="middle" fill="#333" stroke="#333" stroke-width="0.12">1.0</text>
<text x="310.30" y="13.28" font-size="6.6" text-anchor="end" fill="#333" stroke="#333" stroke-width="0.12">1.0</text>
<text x="425.60" y="190.00" font-size="6.6" text-anchor="middle" fill="#333" textLength="57.0" lengthAdjust="spacingAndGlyphs" stroke="#333" stroke-width="0.12">False Positive Rate</text>
<text x="0" y="0" font-size="6.6" text-anchor="middle" fill="#333" textLength="54.4" lengthAdjust="spacingAndGlyphs" transform="translate(296.30,90.05) rotate(-90)" stroke="#333" stroke-width="0.12">True Positive Rate</text>
<rect x="23.30" y="240.10" width="233.00" height="173.80" stroke="#9a9a9a" stroke-width="1.4" fill="none"/>
<line x1="28.10" y1="413.90" x2="28.10" y2="416.10" stroke="#555" stroke-width="0.9"/>
<line x1="21.10" y1="410.80" x2="23.30" y2="410.80" stroke="#555" stroke-width="0.9"/>
<text x="28.10" y="422.30" font-size="6.2" text-anchor="middle" fill="#333" stroke="#333" stroke-width="0.12">0.0</text>
<text x="20.00" y="413.03" font-size="6.2" text-anchor="end" fill="#333" stroke="#333" stroke-width="0.12">0.0</text>
<line x1="72.80" y1="413.90" x2="72.80" y2="416.10" stroke="#555" stroke-width="0.9"/>
<line x1="21.10" y1="377.38" x2="23.30" y2="377.38" stroke="#555" stroke-width="0.9"/>
<text x="72.80" y="422.30" font-size="6.2" text-anchor="middle" fill="#333" stroke="#333" stroke-width="0.12">0.2</text>
<text x="20.00" y="379.61" font-size="6.2" text-anchor="end" fill="#333" stroke="#333" stroke-width="0.12">0.2</text>
<line x1="117.50" y1="413.90" x2="117.50" y2="416.10" stroke="#555" stroke-width="0.9"/>
<line x1="21.10" y1="343.96" x2="23.30" y2="343.96" stroke="#555" stroke-width="0.9"/>
<text x="117.50" y="422.30" font-size="6.2" text-anchor="middle" fill="#333" stroke="#333" stroke-width="0.12">0.4</text>
<text x="20.00" y="346.19" font-size="6.2" text-anchor="end" fill="#333" stroke="#333" stroke-width="0.12">0.4</text>
<line x1="162.20" y1="413.90" x2="162.20" y2="416.10" stroke="#555" stroke-width="0.9"/>
<line x1="21.10" y1="310.54" x2="23.30" y2="310.54" stroke="#555" stroke-width="0.9"/>
<text x="162.20" y="422.30" font-size="6.2" text-anchor="middle" fill="#333" stroke="#333" stroke-width="0.12">0.6</text>
<text x="20.00" y="312.77" font-size="6.2" text-anchor="end" fill="#333" stroke="#333" stroke-width="0.12">0.6</text>
<line x1="206.90" y1="413.90" x2="206.90" y2="416.10" stroke="#555" stroke-width="0.9"/>
<line x1="21.10" y1="277.12" x2="23.30" y2="277.12" stroke="#555" stroke-width="0.9"/>
<text x="206.90" y="422.30" font-size="6.2" text-anchor="middle" fill="#333" stroke="#333" stroke-width="0.12">0.8</text>
<text x="20.00" y="279.35" font-size="6.2" text-anchor="end" fill="#333" stroke="#333" stroke-width="0.12">0.8</text>
<line x1="251.60" y1="413.90" x2="251.60" y2="416.10" stroke="#555" stroke-width="0.9"/>
<line x1="21.10" y1="243.70" x2="23.30" y2="243.70" stroke="#555" stroke-width="0.9"/>
<text x="251.60" y="422.30" font-size="6.2" text-anchor="middle" fill="#333" stroke="#333" stroke-width="0.12">1.0</text>
<text x="20.00" y="245.93" font-size="6.2" text-anchor="end" fill="#333" stroke="#333" stroke-width="0.12">1.0</text>
<text x="139.80" y="429.00" font-size="6.0" text-anchor="middle" fill="#333" textLength="15.6" lengthAdjust="spacingAndGlyphs" stroke="#333" stroke-width="0.12">Recall</text>
<text x="0" y="0" font-size="6.0" text-anchor="middle" fill="#333" textLength="23.0" lengthAdjust="spacingAndGlyphs" transform="translate(9.00,327.00) rotate(-90)" stroke="#333" stroke-width="0.12">Precision</text>
<rect x="307.00" y="240.10" width="236.60" height="176.30" stroke="#9a9a9a" stroke-width="1.4" fill="none"/>
<line x1="311.60" y1="416.40" x2="311.60" y2="418.60" stroke="#555" stroke-width="0.9"/>
<line x1="304.80" y1="413.20" x2="307.00" y2="413.20" stroke="#555" stroke-width="0.9"/>
<text x="311.60" y="424.60" font-size="6.2" text-anchor="middle" fill="#333" stroke="#333" stroke-width="0.12">0.0</text>
<text x="303.70" y="415.43" font-size="6.2" text-anchor="end" fill="#333" stroke="#333" stroke-width="0.12">0.0</text>
<line x1="357.14" y1="416.40" x2="357.14" y2="418.60" stroke="#555" stroke-width="0.9"/>
<line x1="304.80" y1="379.24" x2="307.00" y2="379.24" stroke="#555" stroke-width="0.9"/>
<text x="357.14" y="424.60" font-size="6.2" text-anchor="middle" fill="#333" stroke="#333" stroke-width="0.12">0.2</text>
<text x="303.70" y="381.47" font-size="6.2" text-anchor="end" fill="#333" stroke="#333" stroke-width="0.12">0.2</text>
<line x1="402.68" y1="416.40" x2="402.68" y2="418.60" stroke="#555" stroke-width="0.9"/>
<line x1="304.80" y1="345.28" x2="307.00" y2="345.28" stroke="#555" stroke-width="0.9"/>
<text x="402.68" y="424.60" font-size="6.2" text-anchor="middle" fill="#333" stroke="#333" stroke-width="0.12">0.4</text>
<text x="303.70" y="347.51" font-size="6.2" text-anchor="end" fill="#333" stroke="#333" stroke-width="0.12">0.4</text>
<line x1="448.22" y1="416.40" x2="448.22" y2="418.60" stroke="#555" stroke-width="0.9"/>
<line x1="304.80" y1="311.32" x2="307.00" y2="311.32" stroke="#555" stroke-width="0.9"/>
<text x="448.22" y="424.60" font-size="6.2" text-anchor="middle" fill="#333" stroke="#333" stroke-width="0.12">0.6</text>
<text x="303.70" y="313.55" font-size="6.2" text-anchor="end" fill="#333" stroke="#333" stroke-width="0.12">0.6</text>
<line x1="493.76" y1="416.40" x2="493.76" y2="418.60" stroke="#555" stroke-width="0.9"/>
<line x1="304.80" y1="277.36" x2="307.00" y2="277.36" stroke="#555" stroke-width="0.9"/>
<text x="493.76" y="424.60" font-size="6.2" text-anchor="middle" fill="#333" stroke="#333" stroke-width="0.12">0.8</text>
<text x="303.70" y="279.59" font-size="6.2" text-anchor="end" fill="#333" stroke="#333" stroke-width="0.12">0.8</text>
<line x1="539.30" y1="416.40" x2="539.30" y2="418.60" stroke="#555" stroke-width="0.9"/>
<line x1="304.80" y1="243.40" x2="307.00" y2="243.40" stroke="#555" stroke-width="0.9"/>
<text x="539.30" y="424.60" font-size="6.2" text-anchor="middle" fill="#333" stroke="#333" stroke-width="0.12">1.0</text>
<text x="303.70" y="245.63" font-size="6.2" text-anchor="end" fill="#333" stroke="#333" stroke-width="0.12">1.0</text>
<text x="425.30" y="431.80" font-size="6.0" text-anchor="middle" fill="#333" textLength="49.0" lengthAdjust="spacingAndGlyphs" stroke="#333" stroke-width="0.12">False Positive Rate</text>
<text x="0" y="0" font-size="6.0" text-anchor="middle" fill="#333" textLength="47.7" lengthAdjust="spacingAndGlyphs" transform="translate(291.40,328.25) rotate(-90)" stroke="#333" stroke-width="0.12">True Positive Rate</text>
<rect x="32.80" y="74.70" width="115.40" height="93.40" rx="1.5" fill="#fff" fill-opacity="0.8" stroke="#d6d6d6" stroke-width="0.8"/>
<line x1="35.60" y1="79.60" x2="48.00" y2="79.60" stroke="#fadfdf" stroke-width="0.9"/>
<text x="52.90" y="81.98" font-size="6.6" text-anchor="start" fill="#333" stroke="#333" stroke-width="0.12">PRC fold 1 (AUPRC = 0.5285)</text>
<line x1="35.60" y1="88.88" x2="48.00" y2="88.88" stroke="#fde8d3" stroke-width="0.9"/>
<text x="52.90" y="91.26" font-size="6.6" text-anchor="start" fill="#333" stroke="#333" stroke-width="0.12">PRC fold 2 (AUPRC = 0.5796)</text>
<line x1="35.60" y1="98.16" x2="48.00" y2="98.16" stroke="#daf5da" stroke-width="0.9"/>
<text x="52.90" y="100.54" font-size="6.6" text-anchor="start" fill="#333" stroke="#333" stroke-width="0.12">PRC fold 3 (AUPRC = 0.6769)</text>
<line x1="35.60" y1="107.44" x2="48.00" y2="107.44" stroke="#d0f1f8" stroke-width="0.9"/>
<text x="52.90" y="109.82" font-size="6.6" text-anchor="start" fill="#333" stroke="#333" stroke-width="0.12">PRC fold 4 (AUPRC = 0.6088)</text>
<line x1="35.60" y1="116.72" x2="48.00" y2="116.72" stroke="#d9e2f2" stroke-width="0.9"/>
<text x="52.90" y="119.10" font-size="6.6" text-anchor="start" fill="#333" stroke="#333" stroke-width="0.12">PRC fold 5 (AUPRC = 0.7227)</text>
<line x1="35.60" y1="126.00" x2="48.00" y2="126.00" stroke="#dcd6f8" stroke-width="0.9"/>
<text x="52.90" y="128.38" font-size="6.6" text-anchor="start" fill="#333" stroke="#333" stroke-width="0.12">PRC fold 6 (AUPRC = 0.8114)</text>
<line x1="35.60" y1="135.28" x2="48.00" y2="135.28" stroke="#ddf5dd" stroke-width="0.9"/>
<text x="52.90" y="137.66" font-size="6.6" text-anchor="start" fill="#333" stroke="#333" stroke-width="0.12">PRC fold 7 (AUPRC = 0.7579)</text>
<line x1="35.60" y1="144.56" x2="48.00" y2="144.56" stroke="#f7daf7" stroke-width="0.9"/>
<text x="52.90" y="146.94" font-size="6.6" text-anchor="start" fill="#333" stroke="#333" stroke-width="0.12">PRC fold 8 (AUPRC = 0.6079)</text>
<line x1="35.60" y1="153.84" x2="48.00" y2="153.84" stroke="#f8dae0" stroke-width="0.9"/>
<text x="52.90" y="156.22" font-size="6.6" text-anchor="start" fill="#333" stroke="#333" stroke-width="0.12">PRC fold 9 (AUPRC = 0.5378)</text>
<line x1="35.60" y1="163.12" x2="48.00" y2="163.12" stroke="#fbefd0" stroke-width="0.9"/>
<text x="52.90" y="165.50" font-size="6.6" text-anchor="start" fill="#333" stroke="#333" stroke-width="0.12">PRC fold 10 (AUPRC = 0.7594)</text>
<rect x="423.70" y="64.90" width="111.90" height="105.30" rx="1.5" fill="#fff" fill-opacity="0.8" stroke="#d6d6d6" stroke-width="0.8"/>
<line x1="425.40" y1="70.20" x2="440.00" y2="70.20" stroke="#ddf5dd" stroke-width="0.9"/>
<text x="443.30" y="72.58" font-size="6.6" text-anchor="start" fill="#333" stroke="#333" stroke-width="0.12">ROC fold 1 (AUC = 0.5357)</text>
<line x1="425.40" y1="79.46" x2="440.00" y2="79.46" stroke="#f8e5f5" stroke-width="0.9"/>
<text x="443.30" y="81.84" font-size="6.6" text-anchor="start" fill="#333" stroke="#333" stroke-width="0.12">ROC fold 2 (AUC = 0.6230)</text>
<line x1="425.40" y1="88.72" x2="440.00" y2="88.72" stroke="#f7d0ca" stroke-width="0.9"/>
<text x="443.30" y="91.10" font-size="6.6" text-anchor="start" fill="#333" stroke="#333" stroke-width="0.12">ROC fold 3 (AUC = 0.6587)</text>
<line x1="425.40" y1="97.98" x2="440.00" y2="97.98" stroke="#f7e8ca" stroke-width="0.9"/>
<text x="443.30" y="100.36" font-size="6.6" text-anchor="start" fill="#333" stroke="#333" stroke-width="0.12">ROC fold 4 (AUC = 0.6402)</text>
<line x1="425.40" y1="107.24" x2="440.00" y2="107.24" stroke="#ddf7dd" stroke-width="0.9"/>
<text x="443.30" y="109.62" font-size="6.6" text-anchor="start" fill="#333" stroke="#333" stroke-width="0.12">ROC fold 5 (AUC = 0.7222)</text>
<line x1="425.40" y1="116.50" x2="440.00" y2="116.50" stroke="#cdf4f8" stroke-width="0.9"/>
<text x="443.30" y="118.88" font-size="6.6" text-anchor="start" fill="#333" stroke="#333" stroke-width="0.12">ROC fold 6 (AUC = 0.7487)</text>
<line x1="425.40" y1="125.76" x2="440.00" y2="125.76" stroke="#d4e0f5" stroke-width="0.9"/>
<text x="443.30" y="128.14" font-size="6.6" text-anchor="start" fill="#333" stroke="#333" stroke-width="0.12">ROC fold 7 (AUC = 0.7024)</text>
<line x1="425.40" y1="135.02" x2="440.00" y2="135.02" stroke="#d6d6f5" stroke-width="0.9"/>
<text x="443.30" y="137.40" font-size="6.6" text-anchor="start" fill="#333" stroke="#333" stroke-width="0.12">ROC fold 8 (AUC = 0.5780)</text>
<line x1="425.40" y1="144.28" x2="440.00" y2="144.28" stroke="#e3f7dd" stroke-width="0.9"/>
<text x="443.30" y="146.66" font-size="6.6" text-anchor="start" fill="#333" stroke="#333" stroke-width="0.12">ROC fold 9 (AUC = 0.6005)</text>
<line x1="425.40" y1="153.54" x2="440.00" y2="153.54" stroke="#f8e8ef" stroke-width="0.9"/>
<text x="443.30" y="155.92" font-size="6.6" text-anchor="start" fill="#333" stroke="#333" stroke-width="0.12">ROC fold 10 (AUC = 0.7646)</text>
<line x1="425.40" y1="162.80" x2="440.00" y2="162.80" stroke="#d0d0f4" stroke-width="0.9" stroke-dasharray="4.4,2.3"/>
<text x="443.30" y="165.18" font-size="6.6" text-anchor="start" fill="#333" stroke="#333" stroke-width="0.12">Random</text>
<rect x="240.50" y="250.10" width="11.60" height="8.20" stroke="#444" stroke-width="1.0" fill="none"/>
<line x1="240.50" y1="258.30" x2="163.30" y2="309.60" stroke="#444" stroke-width="0.9"/>
<line x1="252.10" y1="258.30" x2="233.80" y2="309.60" stroke="#444" stroke-width="0.9"/>
<rect x="163.30" y="309.60" width="70.50" height="51.80" stroke="#9a9a9a" stroke-width="1.0" fill="#fff"/>
<line x1="177.50" y1="361.40" x2="177.50" y2="363.40" stroke="#555" stroke-width="0.9"/>
<text x="177.50" y="370.00" font-size="6.2" text-anchor="middle" fill="#333">0.96</text>
<line x1="205.50" y1="361.40" x2="205.50" y2="363.40" stroke="#555" stroke-width="0.9"/>
<text x="205.50" y="370.00" font-size="6.2" text-anchor="middle" fill="#333">0.98</text>
<line x1="233.20" y1="361.40" x2="233.20" y2="363.40" stroke="#555" stroke-width="0.9"/>
<text x="233.20" y="370.00" font-size="6.2" text-anchor="middle" fill="#333">1.00</text>
<line x1="161.30" y1="309.60" x2="163.30" y2="309.60" stroke="#555" stroke-width="0.9"/>
<text x="160.00" y="311.80" font-size="6.2" text-anchor="end" fill="#333">0.96</text>
<line x1="161.30" y1="330.40" x2="163.30" y2="330.40" stroke="#555" stroke-width="0.9"/>
<text x="160.00" y="332.60" font-size="6.2" text-anchor="end" fill="#333">0.94</text>
<line x1="161.30" y1="351.30" x2="163.30" y2="351.30" stroke="#555" stroke-width="0.9"/>
<text x="160.00" y="353.50" font-size="6.2" text-anchor="end" fill="#333">0.92</text>
<rect x="311.40" y="250.10" width="11.80" height="8.20" stroke="#444" stroke-width="1.0" fill="none"/>
<line x1="323.20" y1="250.10" x2="448.80" y2="292.70" stroke="#444" stroke-width="0.9"/>
<line x1="323.20" y1="258.30" x2="448.80" y2="346.20" stroke="#444" stroke-width="0.9"/>
<rect x="448.80" y="292.70" width="71.40" height="53.50" stroke="#9a9a9a" stroke-width="1.0" fill="#fff"/>
<line x1="448.80" y1="346.20" x2="448.80" y2="348.20" stroke="#555" stroke-width="0.9"/>
<text x="448.80" y="354.00" font-size="6.2" text-anchor="middle" fill="#333">0.00</text>
<line x1="477.40" y1="346.20" x2="477.40" y2="348.20" stroke="#555" stroke-width="0.9"/>
<text x="477.40" y="354.00" font-size="6.2" text-anchor="middle" fill="#333">0.02</text>
<line x1="506.00" y1="346.20" x2="506.00" y2="348.20" stroke="#555" stroke-width="0.9"/>
<text x="506.00" y="354.00" font-size="6.2" text-anchor="middle" fill="#333">0.04</text>
<line x1="446.80" y1="292.70" x2="448.80" y2="292.70" stroke="#555" stroke-width="0.9"/>
<text x="445.50" y="294.90" font-size="6.2" text-anchor="end" fill="#333">0.96</text>
<line x1="446.80" y1="314.10" x2="448.80" y2="314.10" stroke="#555" stroke-width="0.9"/>
<text x="445.50" y="316.30" font-size="6.2" text-anchor="end" fill="#333">0.94</text>
<line x1="446.80" y1="335.50" x2="448.80" y2="335.50" stroke="#555" stroke-width="0.9"/>
<text x="445.50" y="337.70" font-size="6.2" text-anchor="end" fill="#333">0.92</text>
<rect x="27.10" y="333.30" width="94.00" height="76.80" rx="1.5" fill="#fff" fill-opacity="0.8" stroke="#d6d6d6" stroke-width="0.8"/>
<line x1="28.00" y1="337.00" x2="39.30" y2="337.00" stroke="#9a7292" stroke-width="1.1"/>
<text x="43.00" y="339.02" font-size="5.6" text-anchor="start" fill="#333" stroke="#333" stroke-width="0.12">PRC fold 1 (AUPRC = 0.5756)</text>
<line x1="28.00" y1="344.71" x2="39.30" y2="344.71" stroke="#cfa0b2" stroke-width="1.1"/>
<text x="43.00" y="346.73" font-size="5.6" text-anchor="start" fill="#333" stroke="#333" stroke-width="0.12">PRC fold 2 (AUPRC = 0.6000)</text>
<line x1="28.00" y1="352.42" x2="39.30" y2="352.42" stroke="#f2c080" stroke-width="1.1"/>
<text x="43.00" y="354.44" font-size="5.6" text-anchor="start" fill="#333" stroke="#333" stroke-width="0.12">PRC fold 3 (AUPRC = 0.7545)</text>
<line x1="28.00" y1="360.13" x2="39.30" y2="360.13" stroke="#f0c090" stroke-width="1.1"/>
<text x="43.00" y="362.15" font-size="5.6" text-anchor="start" fill="#333" stroke="#333" stroke-width="0.12">PRC fold 4 (AUPRC = 0.5660)</text>
<line x1="28.00" y1="367.84" x2="39.30" y2="367.84" stroke="#80a0a8" stroke-width="1.1"/>
<text x="43.00" y="369.86" font-size="5.6" text-anchor="start" fill="#333" stroke="#333" stroke-width="0.12">PRC fold 5 (AUPRC = 0.5359)</text>
<line x1="28.00" y1="375.55" x2="39.30" y2="375.55" stroke="#a88098" stroke-width="1.1"/>
<text x="43.00" y="377.57" font-size="5.6" text-anchor="start" fill="#333" stroke="#333" stroke-width="0.12">PRC fold 6 (AUPRC = 0.7753)</text>
<line x1="28.00" y1="383.26" x2="39.30" y2="383.26" stroke="#b85878" stroke-width="1.1"/>
<text x="43.00" y="385.28" font-size="5.6" text-anchor="start" fill="#333" stroke="#333" stroke-width="0.12">PRC fold 7 (AUPRC = 0.7810)</text>
<line x1="28.00" y1="390.97" x2="39.30" y2="390.97" stroke="#f8c890" stroke-width="1.1"/>
<text x="43.00" y="392.99" font-size="5.6" text-anchor="start" fill="#333" stroke="#333" stroke-width="0.12">PRC fold 8 (AUPRC = 0.6712)</text>
<line x1="28.00" y1="398.68" x2="39.30" y2="398.68" stroke="#f4cab0" stroke-width="1.1"/>
<text x="43.00" y="400.70" font-size="5.6" text-anchor="start" fill="#333" stroke="#333" stroke-width="0.12">PRC fold 9 (AUPRC = 0.7455)</text>
<line x1="28.00" y1="406.39" x2="39.30" y2="406.39" stroke="#6890a0" stroke-width="1.1"/>
<text x="43.00" y="408.41" font-size="5.6" text-anchor="start" fill="#333" stroke="#333" stroke-width="0.12">PRC fold 10 (AUPRC = 0.6207)</text>
<rect x="447.50" y="333.90" width="94.80" height="81.20" rx="1.5" fill="#fff" fill-opacity="0.8" stroke="#d6d6d6" stroke-width="0.8"/>
<line x1="448.60" y1="338.60" x2="459.60" y2="338.60" stroke="#9a7292" stroke-width="1.1"/>
<text x="464.30" y="340.71" font-size="5.85" text-anchor="start" fill="#333" stroke="#333" stroke-width="0.12">ROC fold 1 (AUC = 0.4881)</text>
<line x1="448.60" y1="346.41" x2="459.60" y2="346.41" stroke="#cfa0b2" stroke-width="1.1"/>
<text x="464.30" y="348.52" font-size="5.85" text-anchor="start" fill="#333" stroke="#333" stroke-width="0.12">ROC fold 2 (AUC = 0.6190)</text>
<line x1="448.60" y1="354.22" x2="459.60" y2="354.22" stroke="#f2c080" stroke-width="1.1"/>
<text x="464.30" y="356.33" font-size="5.85" text-anchor="start" fill="#333" stroke="#333" stroke-width="0.12">ROC fold 3 (AUC = 0.5000)</text>
<line x1="448.60" y1="362.03" x2="459.60" y2="362.03" stroke="#f0c090" stroke-width="1.1"/>
<text x="464.30" y="364.14" font-size="5.85" text-anchor="start" fill="#333" stroke="#333" stroke-width="0.12">ROC fold 4 (AUC = 0.5992)</text>
<line x1="448.60" y1="369.84" x2="459.60" y2="369.84" stroke="#80a0a8" stroke-width="1.1"/>
<text x="464.30" y="371.95" font-size="5.85" text-anchor="start" fill="#333" stroke="#333" stroke-width="0.12">ROC fold 5 (AUC = 0.5807)</text>
<line x1="448.60" y1="377.65" x2="459.60" y2="377.65" stroke="#a88098" stroke-width="1.1"/>
<text x="464.30" y="379.76" font-size="5.85" text-anchor="start" fill="#333" stroke="#333" stroke-width="0.12">ROC fold 6 (AUC = 0.7447)</text>
<line x1="448.60" y1="385.46" x2="459.60" y2="385.46" stroke="#b85878" stroke-width="1.1"/>
<text x="464.30" y="387.57" font-size="5.85" text-anchor="start" fill="#333" stroke="#333" stroke-width="0.12">ROC fold 7 (AUC = 0.7738)</text>
<line x1="448.60" y1="393.27" x2="459.60" y2="393.27" stroke="#f8c890" stroke-width="1.1"/>
<text x="464.30" y="395.38" font-size="5.85" text-anchor="start" fill="#333" stroke="#333" stroke-width="0.12">ROC fold 8 (AUC = 0.6958)</text>
<line x1="448.60" y1="401.08" x2="459.60" y2="401.08" stroke="#f4cab0" stroke-width="1.1"/>
<text x="464.30" y="403.19" font-size="5.85" text-anchor="start" fill="#333" stroke="#333" stroke-width="0.12">ROC fold 9 (AUC = 0.5000)</text>
<line x1="448.60" y1="408.89" x2="459.60" y2="408.89" stroke="#6890a0" stroke-width="1.1"/>
<text x="464.30" y="411.00" font-size="5.85" text-anchor="start" fill="#333" stroke="#333" stroke-width="0.12">ROC fold 10 (AUC = 0.6812)</text>
<text x="43.00" y="207.90" font-size="11.6" text-anchor="start" fill="#000" textLength="186.0" lengthAdjust="spacingAndGlyphs" stroke="#000" stroke-width="0.35">Precision-Recall Curve - 10-fold</text>
<text x="90.60" y="221.30" font-size="11.6" text-anchor="start" fill="#000" textLength="94.6" lengthAdjust="spacingAndGlyphs" stroke="#000" stroke-width="0.35">Cross-Validation</text>
<text x="370.70" y="208.20" font-size="11.6" text-anchor="start" fill="#000" textLength="118.0" lengthAdjust="spacingAndGlyphs" stroke="#000" stroke-width="0.35">ROC Curve - 10-fold</text>
<text x="384.20" y="221.50" font-size="11.6" text-anchor="start" fill="#000" textLength="95.0" lengthAdjust="spacingAndGlyphs" stroke="#000" stroke-width="0.35">Cross-Validation</text>
<text x="60.80" y="449.80" font-size="11.6" text-anchor="start" fill="#000" textLength="160.8" lengthAdjust="spacingAndGlyphs" stroke="#000" stroke-width="0.35">Precision-Recall Curve with</text>
<text x="49.20" y="462.50" font-size="11.6" text-anchor="start" fill="#000" textLength="188.2" lengthAdjust="spacingAndGlyphs" stroke="#000" stroke-width="0.35">Zoom - 10-fold Cross-Validation</text>
<text x="386.00" y="449.80" font-size="11.6" text-anchor="start" fill="#000" textLength="93.4" lengthAdjust="spacingAndGlyphs" stroke="#000" stroke-width="0.35">ROC Curve with</text>
<text x="340.80" y="462.50" font-size="11.6" text-anchor="start" fill="#000" textLength="187.6" lengthAdjust="spacingAndGlyphs" stroke="#000" stroke-width="0.35">Zoom - 10-fold Cross-Validation</text>
</g>
</svg>
</body></html>
